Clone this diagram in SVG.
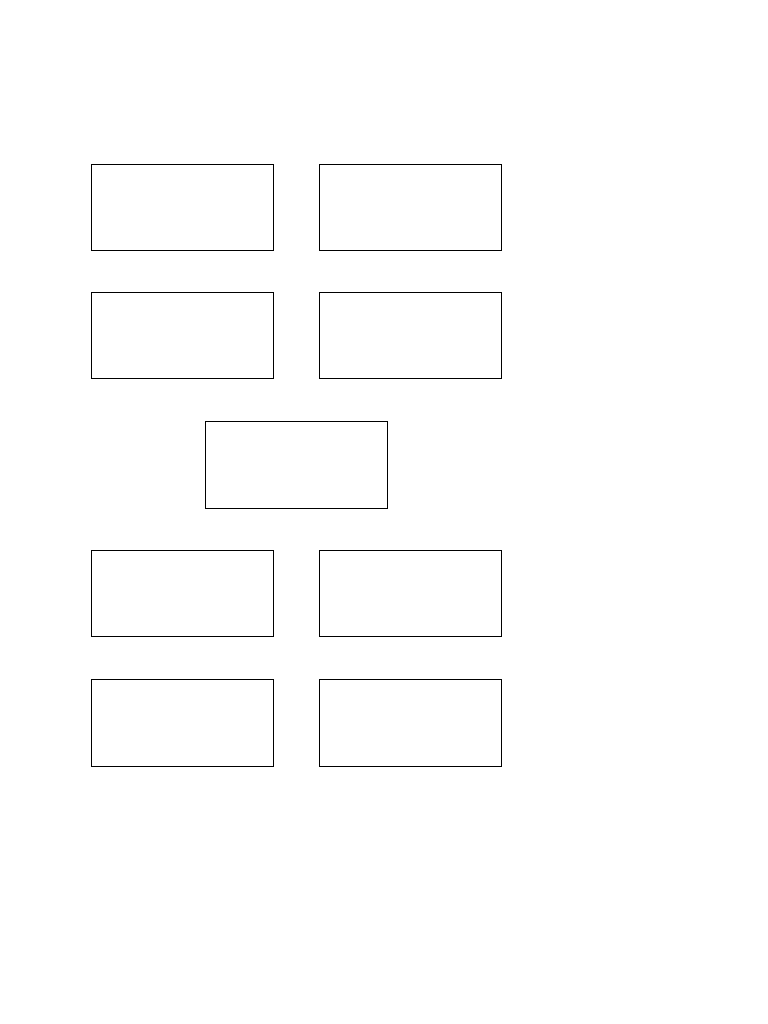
<svg xmlns="http://www.w3.org/2000/svg" width="768" height="1024" viewBox="0 0 768 1024">
<style>
.box{fill:#ffffff;stroke:#000000;stroke-width:1}
</style>
<rect width="768" height="1024" fill="#ffffff"/>
<g id="connectors"></g>
<g id="node1"><rect class="box" x="91.5" y="164.5" width="182" height="86"/></g>
<g id="node2"><rect class="box" x="319.5" y="164.5" width="182" height="86"/></g>
<g id="node3"><rect class="box" x="91.5" y="292.5" width="182" height="86"/></g>
<g id="node4"><rect class="box" x="319.5" y="292.5" width="182" height="86"/></g>
<g id="node5"><rect class="box" x="205.5" y="421.5" width="182" height="87"/></g>
<g id="node6"><rect class="box" x="91.5" y="550.5" width="182" height="86"/></g>
<g id="node7"><rect class="box" x="319.5" y="550.5" width="182" height="86"/></g>
<g id="node8"><rect class="box" x="91.5" y="679.5" width="182" height="87"/></g>
<g id="node9"><rect class="box" x="319.5" y="679.5" width="182" height="87"/></g>
</svg>
